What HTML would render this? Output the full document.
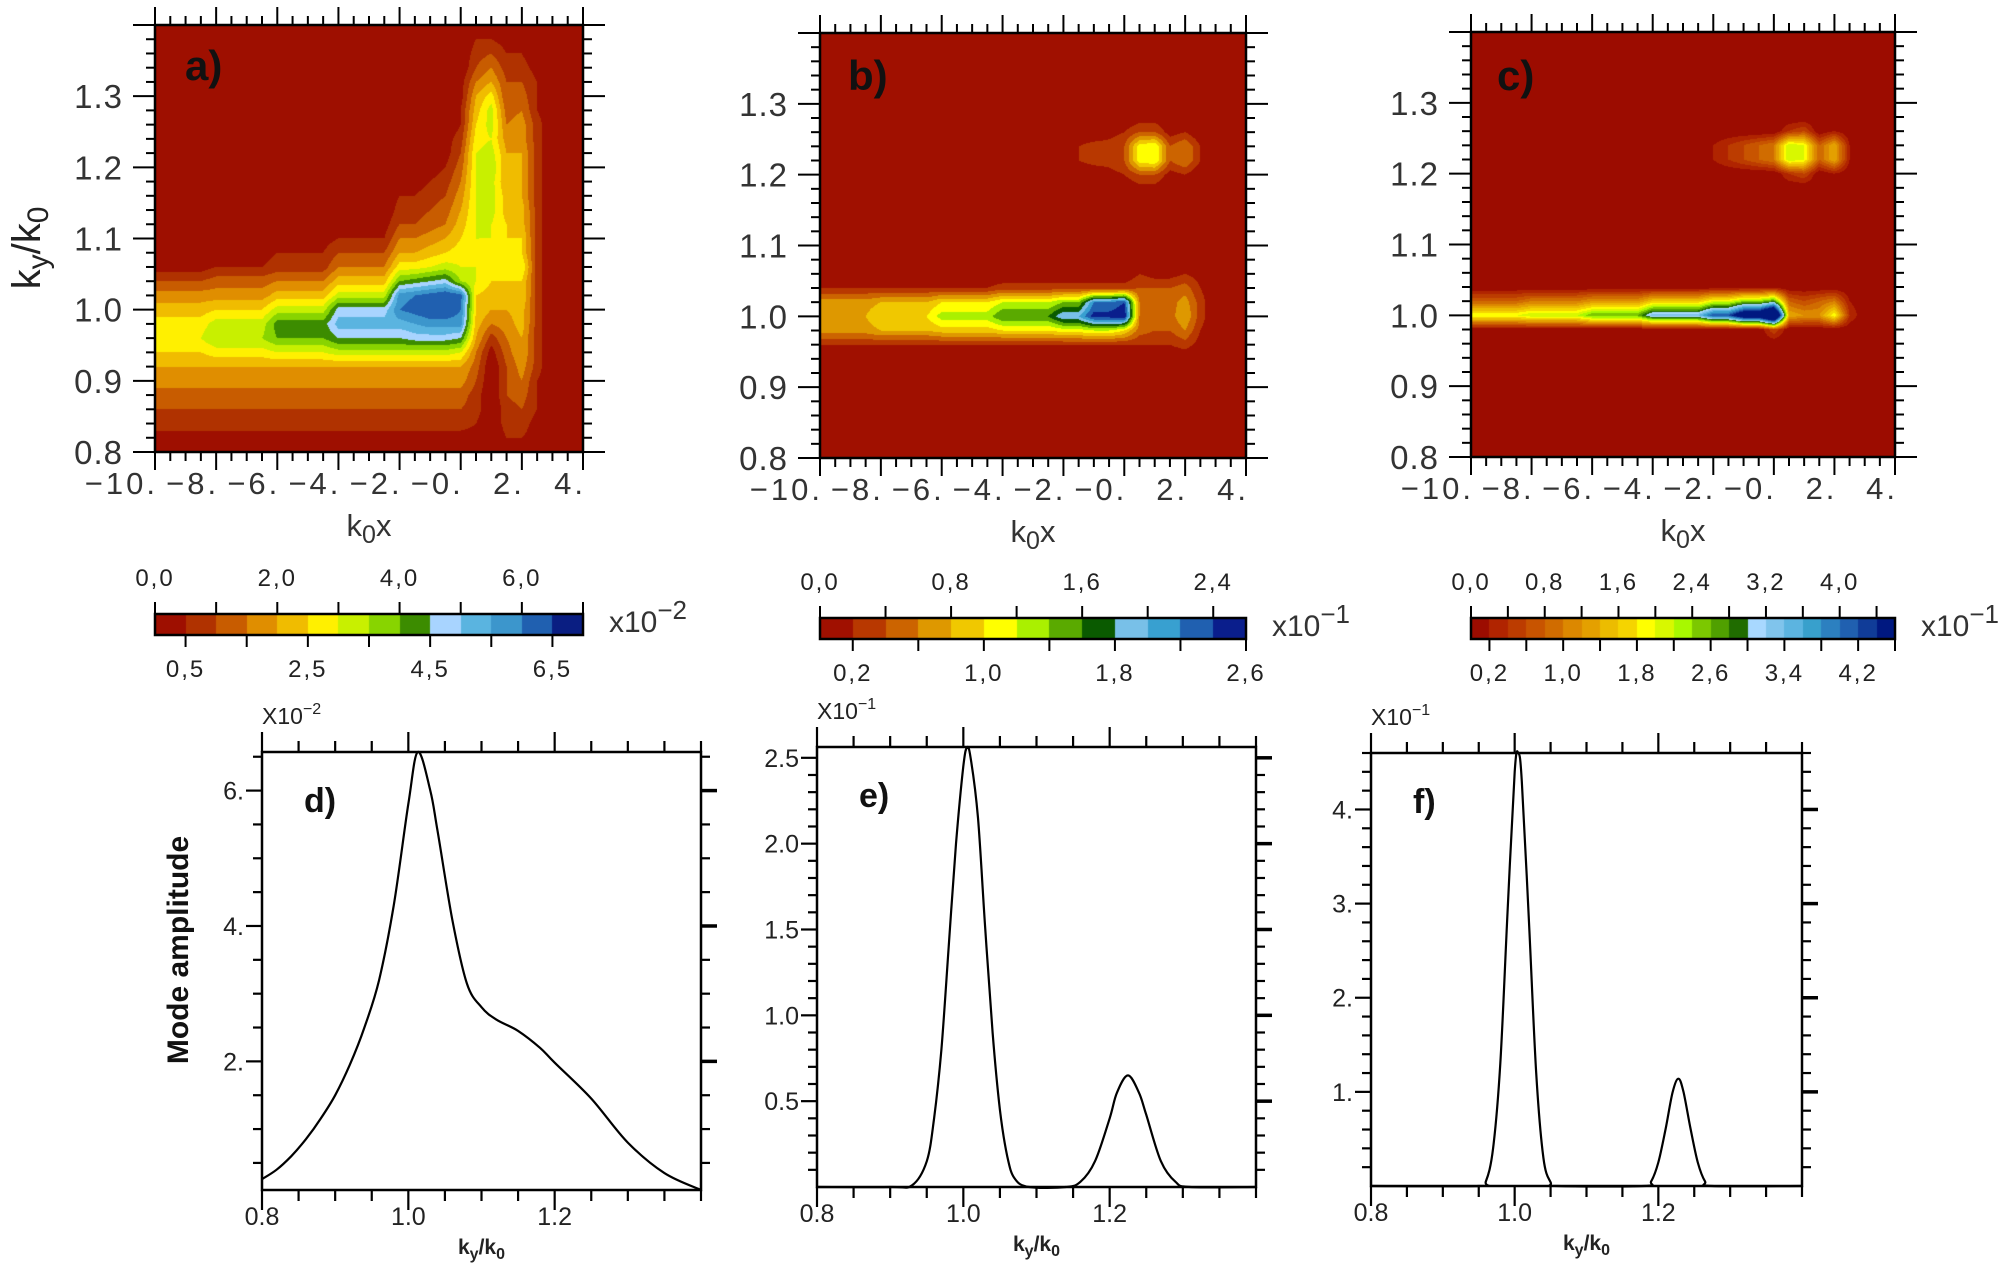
<!DOCTYPE html>
<html><head><meta charset="utf-8">
<style>
html,body{margin:0;padding:0;background:#fff;}
#root{position:relative;width:2007px;height:1270px;overflow:hidden;background:#fff;}
canvas{position:absolute;}
svg{position:absolute;left:0;top:0;}
text{font-family:"Liberation Sans",sans-serif;}
</style></head>
<body>
<div id="root">
<canvas id="hmA"></canvas>
<canvas id="hmB"></canvas>
<canvas id="hmC"></canvas>
<canvas id="cbA"></canvas>
<canvas id="cbB"></canvas>
<canvas id="cbC"></canvas>
<svg id="ov" width="2007" height="1270"></svg>
</div>
<script>
// ---------- heatmap data ----------
const heatX = [-10,-9.5,-9,-8.5,-8,-7.5,-7,-6.5,-6,-5.5,-5,-4.5,-4,-3.5,-3,-2.5,-2,-1.5,-1,-0.5,0,0.5,1,1.5,2,2.5,3,3.5,4];
const heatY = [0.80,0.82,0.84,0.86,0.88,0.90,0.92,0.94,0.96,0.98,1.00,1.02,1.04,1.06,1.08,1.10,1.12,1.14,1.16,1.18,1.20,1.22,1.24,1.26,1.28,1.30,1.32,1.34,1.36,1.38,1.40];
// each column: list of [startRowIndex, base36 chars upward from that row]; other rows = 0
const colsA = [
[[0,"0134578acb9741"]],[[0,"0134578acb9741"]],[[0,"0134578acb9741"]],[[0,"0134578acb9741"]],
[[0,"0134578beda75210"]],[[0,"0134578beda75210"]],[[0,"0134578beda75210"]],[[0,"0134578beda75210"]],
[[0,"0134578cghd963210"]],[[0,"0134578cghd963210"]],[[0,"0134578cghd963210"]],[[0,"0134578cghd963210"]],
[[0,"0134578diljd964210"]],[[0,"0134578diljd964210"]],[[0,"0134578diljd964210"]],[[0,"0134578diljd964210"]],
[[0,"0134578dilongb8643210"]],[[0,"0134578djmpohb86432110"]],[[0,"0134578djnqpic975432110"]],[[0,"0134578djnqqjda865432110"]],
[[0,"0134578cinopecba98765432211"]],[[0,"0123345689aaccccccccccba9864321"]],[[7,"13689abbccdddedcddb86421"]],[[0,"123344456789aaaaa99888765443210"]],
[[0,"12345678899aacaa998888776543210"]],[[0,"0112223333333333333333332221000"]],[],[],[]];
const colsB = [
[[8,"27872"]],[[8,"27872"]],[[8,"27872"]],[[8,"27872"]],
[[8,"28a82"]],[[8,"28a82"]],[[8,"28a82"]],[[8,"28a82"]],
[[8,"29da2"]],[[8,"29da2"]],[[8,"29da2"]],[[8,"29da2"]],
[[8,"2agc3"]],[[8,"2agc3"]],[[8,"2agc3"]],[[8,"2agc3"]],
[[8,"2bke3"]],[[8,"2bke3"],[21,"22"]],[[8,"2cpm3"],[21,"33"]],[[8,"2cpm3"],[20,"1331"]],
[[8,"2aqo3"],[20,"2442"]],[[8,"256642"],[19,"14bb41"]],[[8,"245541"],[19,"14cc41"]],[[8,"245541"],[20,"1441"]],
[[8,"368752"],[20,"2662"]],[[8,"123321"],[21,"22"]],[],[],[]];
const colsC = [
[[10,"a4"]],[[10,"a4"]],[[10,"a4"]],[[10,"a4"]],
[[10,"b5"]],[[10,"b5"]],[[10,"b5"]],[[10,"b5"]],
[[10,"d6"]],[[10,"d6"]],[[10,"d6"]],[[10,"d6"]],
[[10,"h8"]],[[10,"h8"]],[[10,"h8"]],[[10,"h8"]],
[[10,"la"],[21,"11"]],[[10,"la"],[21,"22"]],[[10,"qc"],[21,"33"]],[[10,"qc"],[21,"44"]],
[[9,"3xe"],[21,"55"]],[[10,"74"],[20,"2bb2"]],[[10,"63"],[20,"3aa3"]],[[10,"64"],[21,"44"]],
[[10,"a5"],[20,"1771"]],[[10,"21"],[21,"11"]],[],[],[]];
const palA = ["#9e0f00","#b03200","#c85c00","#e08e00","#f0bc00","#fff000","#c8f000","#88d400","#3c8c00","#a8d4ff","#5ab4e0","#3c96cc","#2060b0","#0a1e82"];
const palB = ["#a01000","#b83800","#cc6400","#de9800","#f0c800","#ffff00","#aaf000","#5aaa00","#0a5a00","#78c0e8","#38a0d0","#2060b0","#0a1e8c"];
const palC = ["#9c0c00","#b02400","#bc3c00","#c85400","#d06c00","#dc8800","#e4a000","#ecbc00","#f5d400","#ffff00","#d8f800","#a8f800","#7cc800","#50a000","#206c00","#a8d8ff","#80c4ec","#5cb4e0","#38a0cc","#2c80c0","#2060b0","#103c98","#001880"];
// ---------- line data ----------
const dX = [0.80,0.82,0.84,0.86,0.88,0.90,0.92,0.94,0.96,0.98,1.00,1.013,1.03,1.04,1.06,1.08,1.10,1.12,1.15,1.18,1.20,1.25,1.30,1.35,1.40];
const dY = [0.26,0.4,0.6,0.85,1.15,1.5,1.95,2.5,3.2,4.3,5.8,6.57,6.0,5.4,4.1,3.15,2.8,2.62,2.45,2.2,1.98,1.45,0.8,0.35,0.1];
const eX = [0.80,0.90,0.93,0.95,0.96,0.97,0.98,0.99,1.00,1.005,1.01,1.02,1.03,1.04,1.05,1.06,1.07,1.09,1.14,1.16,1.18,1.20,1.21,1.225,1.24,1.25,1.27,1.29,1.31,1.40];
const eY = [0,0,0.01,0.15,0.4,0.8,1.4,2.0,2.45,2.56,2.5,2.15,1.5,0.9,0.45,0.18,0.05,0,0,0.03,0.15,0.4,0.55,0.65,0.55,0.42,0.15,0.03,0,0];
const fX = [0.80,0.95,0.96,0.97,0.98,0.99,1.00,1.005,1.01,1.02,1.03,1.04,1.05,1.06,1.18,1.19,1.20,1.21,1.22,1.228,1.235,1.245,1.255,1.265,1.275,1.40];
const fY = [0,0,0.05,0.4,1.3,2.9,4.4,4.6,4.3,2.8,1.2,0.3,0.04,0,0,0.05,0.25,0.6,1.0,1.14,1.0,0.6,0.25,0.05,0,0];

const svg = document.getElementById('ov');
const NS = 'http://www.w3.org/2000/svg';
function mk(tag, attrs, parent){const e=document.createElementNS(NS,tag);for(const k in attrs)e.setAttribute(k,attrs[k]);(parent||svg).appendChild(e);return e;}
function txt(str, attrs){const t=mk('text',attrs);t.textContent=str;return t;}
function ln(x1,y1,x2,y2,w,g){return mk('line',{x1:x1,y1:y1,x2:x2,y2:y2,stroke:'#000','stroke-width':w},g);}

function drawHeat(id, box, cols, div, pal){
  const c=document.getElementById(id);
  c.width=box.w;c.height=box.h;c.style.left=box.l+'px';c.style.top=box.t+'px';
  const ctx=c.getContext('2d');const img=ctx.createImageData(box.w,box.h);
  const rgb=pal.map(p=>[parseInt(p.substr(1,2),16),parseInt(p.substr(3,2),16),parseInt(p.substr(5,2),16)]);
  const nx=heatX.length, ny=heatY.length;
  const grid=cols.map(segs=>{const a=new Array(ny).fill(0);(segs||[]).forEach(s=>{for(let k=0;k<s[1].length;k++){if(s[0]+k<ny)a[s[0]+k]=parseInt(s[1].charAt(k),36)/div;}});return a;});
  const val=(i,j)=>grid[i][j];
  const x0=heatX[0],x1=heatX[nx-1],y0=heatY[0],y1=heatY[ny-1];
  for(let py=0;py<box.h;py++){
    const yd=1.4-0.6*(py+0.5)/box.h;
    let fj=(yd-y0)/(y1-y0)*(ny-1);fj=Math.max(0,Math.min(ny-1.0001,fj));
    const j=Math.floor(fj),tj=fj-j;
    for(let px=0;px<box.w;px++){
      const xd=-10+14*(px+0.5)/box.w;
      let fi=(xd-x0)/(x1-x0)*(nx-1);fi=Math.max(0,Math.min(nx-1.0001,fi));
      const i=Math.floor(fi),ti=fi-i;
      const v=(val(i,j)*(1-ti)+val(i+1,j)*ti)*(1-tj)+(val(i,j+1)*(1-ti)+val(i+1,j+1)*ti)*tj;
      let lv=Math.floor(v);if(lv<0)lv=0;if(lv>pal.length-1)lv=pal.length-1;
      const k=(py*box.w+px)*4;const col=rgb[lv];
      img.data[k]=col[0];img.data[k+1]=col[1];img.data[k+2]=col[2];img.data[k+3]=255;
    }
  }
  ctx.putImageData(img,0,0);
  const g=mk('g',{});
  
  
  mk('rect',{x:box.l,y:box.t,width:box.w,height:box.h,fill:'none',stroke:'#000','stroke-width':2.5},g);
  const sx=v=>box.l+(v+10)/14*box.w, sy=v=>box.t+(1.4-v)/0.6*box.h;
  for(let k=0;k<=28;k++){const v=-10+k*0.5;const X=sx(v);const maj=(k%4===0);const L=maj?18:9;
    ln(X,box.t,X,box.t-L,2,g);ln(X,box.t+box.h,X,box.t+box.h+L,2,g);}
  for(let k=0;k<=30;k++){const v=0.8+k*0.02;const Y=sy(v);const maj=(k%5===0);const L=maj?22:9;
    ln(box.l,Y,box.l-L,Y,2,g);ln(box.l+box.w,Y,box.l+box.w+L,Y,2,g);}
  const xl=['\u221210.','\u22128.','\u22126.','\u22124.','\u22122.','\u22120.','2.','4.'];
  [-10,-8,-6,-4,-2,0,2,4].forEach((v,k)=>{const t=txt(xl[k],{x:sx(v)+3,y:box.t+box.h+42,'text-anchor':'end','font-size':31,'letter-spacing':3,fill:'#333'});
    });
  ['0.8','0.9','1.0','1.1','1.2','1.3'].forEach((s,k)=>{const t=txt(s,{x:box.l-32,y:sy(0.8+0.1*k)+12,'text-anchor':'end','font-size':33,'letter-spacing':1,fill:'#333'});
    });
  const xt=txt('',{x:box.l+box.w/2,y:box.t+box.h+84,'text-anchor':'middle','font-size':31,fill:'#333'});
  
  xt.innerHTML='k<tspan dy="7" font-size="25">0</tspan><tspan dy="-7">x</tspan>';
}
function drawBar(id, box, pal, vmax, topLab, botLab, mult){
  const c=document.getElementById(id);
  c.width=box.w;c.height=box.h;c.style.left=box.l+'px';c.style.top=box.t+'px';
  const ctx=c.getContext('2d');const n=pal.length;
  pal.forEach((p,k)=>{ctx.fillStyle=p;const x0=Math.round(k*box.w/n),x1=Math.round((k+1)*box.w/n);ctx.fillRect(x0,0,x1-x0,box.h);});
  const g=mk('g',{});
  
  
  mk('rect',{x:box.l,y:box.t,width:box.w,height:box.h,fill:'none',stroke:'#000','stroke-width':2.5},g);
  const step=vmax/n; const sx=v=>box.l+v/vmax*box.w;
  for(let k=0;k<=n;k++){const X=sx(k*step);
    if(k%2===0)ln(X,box.t,X,box.t-12,2,g);else ln(X,box.t+box.h,X,box.t+box.h+12,2,g);}
  topLab.forEach(v=>{const t=txt(v.toFixed(1).replace('.',','),{x:sx(v),y:box.t-28,'text-anchor':'middle','font-size':24,'letter-spacing':2,fill:'#222'});
    });
  botLab.forEach(v=>{const t=txt(v.toFixed(1).replace('.',','),{x:sx(v),y:box.t+box.h+42,'text-anchor':'middle','font-size':24,'letter-spacing':2,fill:'#222'});
    });
  const m=txt('',{x:box.l+box.w+26,y:box.t+18,'font-size':30,fill:'#333'});
  
  m.innerHTML='x10<tspan dy="-13" font-size="26">\u2212'+mult+'</tspan>';
}
const boxA={l:155,t:25,w:428,h:427}, boxB={l:820,t:33,w:426,h:425}, boxC={l:1471,t:32,w:424,h:425};
drawHeat('hmA',boxA,colsA,2,palA);
drawHeat('hmB',boxB,colsB,2,palB);
drawHeat('hmC',boxC,colsC,1,palC);
drawBar('cbA',{l:155,t:614,w:428,h:21},palA,7,[0,2,4,6],[0.5,2.5,4.5,6.5],2);
drawBar('cbB',{l:820,t:618,w:426,h:21},palB,2.6,[0,0.8,1.6,2.4],[0.2,1.0,1.8,2.6],1);
drawBar('cbC',{l:1471,t:618,w:424,h:21},palC,4.6,[0,0.8,1.6,2.4,3.2,4.0],[0.2,1.0,1.8,2.6,3.4,4.2],1);

const yt=txt('',{x:0,y:0,'font-size':40,fill:'#222','text-anchor':'middle',transform:'translate(40,248) rotate(-90)'});

yt.innerHTML='k<tspan dy="8" font-size="30">y</tspan><tspan dy="-8">/k</tspan><tspan dy="8" font-size="30">0</tspan>';
[['a)',185,80],['b)',848,90],['c)',1497,90]].forEach(p=>{const t=txt(p[0],{x:p[1],y:p[2],'font-size':42,'font-weight':'bold',fill:'#111'});
  });

// ---------- line plots ----------
function drawLine(box, xs, ys, ymin, ymax, yMajor, yMinor, yLabels, mult, label, name){
  const g=mk('g',{});
  
  
  const sx=v=>box.l+(v-0.8)/0.6*box.w, sy=v=>box.t+box.h-(v-ymin)/(ymax-ymin)*box.h;
  mk('rect',{x:box.l,y:box.t,width:box.w,height:box.h,fill:'none',stroke:'#000','stroke-width':2.5},g);
  for(let k=0;k<=12;k++){const v=0.8+k*0.05;const X=sx(v);const maj=(k%4===0)&&k<12;const L=maj?20:11;
    ln(X,box.t,X,box.t-L,2.2,g);ln(X,box.t+box.h,X,box.t+box.h+L,2.2,g);}
  for(let v=yMinor;v<=ymax+1e-9;v+=yMinor){const Y=sy(v);if(Y<box.t-1)continue;const maj=Math.abs(v/yMajor-Math.round(v/yMajor))<1e-6;const L=maj?16:9;
    ln(box.l,Y,box.l-L,Y,2.2,g);ln(box.l+box.w,Y,box.l+box.w+L,Y,maj?3.5:2.2,g);}
  yLabels.forEach(s=>{const v=parseFloat(s);const t=txt(s,{x:box.l-18,y:sy(v)+9,'text-anchor':'end','font-size':25,fill:'#222'});
    });
  ['0.8','1.0','1.2'].forEach(s=>{const t=txt(s,{x:sx(parseFloat(s)),y:box.t+box.h+35,'text-anchor':'middle','font-size':25,fill:'#222'});
    });
  const m=txt('',{x:box.l,y:box.t-28,'font-size':23,fill:'#222'});
  
  m.innerHTML='X10<tspan dy="-10" font-size="16">\u2212'+mult+'</tspan>';
  const xt=txt('',{x:box.l+box.w/2,y:box.t+box.h+64,'text-anchor':'middle','font-size':21,'font-weight':'bold',fill:'#222'});
  
  xt.innerHTML='k<tspan dy="5" font-size="16">y</tspan><tspan dy="-5">/k</tspan><tspan dy="5" font-size="16">0</tspan>';
  const pl=txt(label,{x:box.l+42,y:box.t+60,'font-size':34,'font-weight':'bold',fill:'#111'});
  
  const P=xs.map((x,i)=>[sx(x),sy(ys[i])]);
  let d='M'+P[0][0].toFixed(1)+','+P[0][1].toFixed(1);
  for(let i=0;i<P.length-1;i++){const p0=P[Math.max(0,i-1)],p1=P[i],p2=P[i+1],p3=P[Math.min(P.length-1,i+2)];
    const c1=[p1[0]+(p2[0]-p0[0])/6,p1[1]+(p2[1]-p0[1])/6],c2=[p2[0]-(p3[0]-p1[0])/6,p2[1]-(p3[1]-p1[1])/6];
    d+=' C'+c1[0].toFixed(1)+','+c1[1].toFixed(1)+' '+c2[0].toFixed(1)+','+c2[1].toFixed(1)+' '+p2[0].toFixed(1)+','+p2[1].toFixed(1);}
  const path=mk('path',{d:d,fill:'none',stroke:'#000','stroke-width':2.2},g);
  
  
}
drawLine({l:262,t:752,w:439,h:438},dX,dY,0.1,6.57,2,0.5,['2.','4.','6.'],2,'d)','plot-d');
drawLine({l:817,t:747,w:439,h:440},eX,eY,0,2.563,0.5,0.1,['0.5','1.0','1.5','2.0','2.5'],1,'e)','plot-e');
drawLine({l:1371,t:753,w:431,h:433},fX,fY,0,4.6,1,0.2,['1.','2.','3.','4.'],1,'f)','plot-f');
const ma=txt('Mode amplitude',{x:0,y:0,'font-size':30,'font-weight':'bold',fill:'#111','text-anchor':'middle',transform:'translate(188,950) rotate(-90)'});

</script>
</body></html>
